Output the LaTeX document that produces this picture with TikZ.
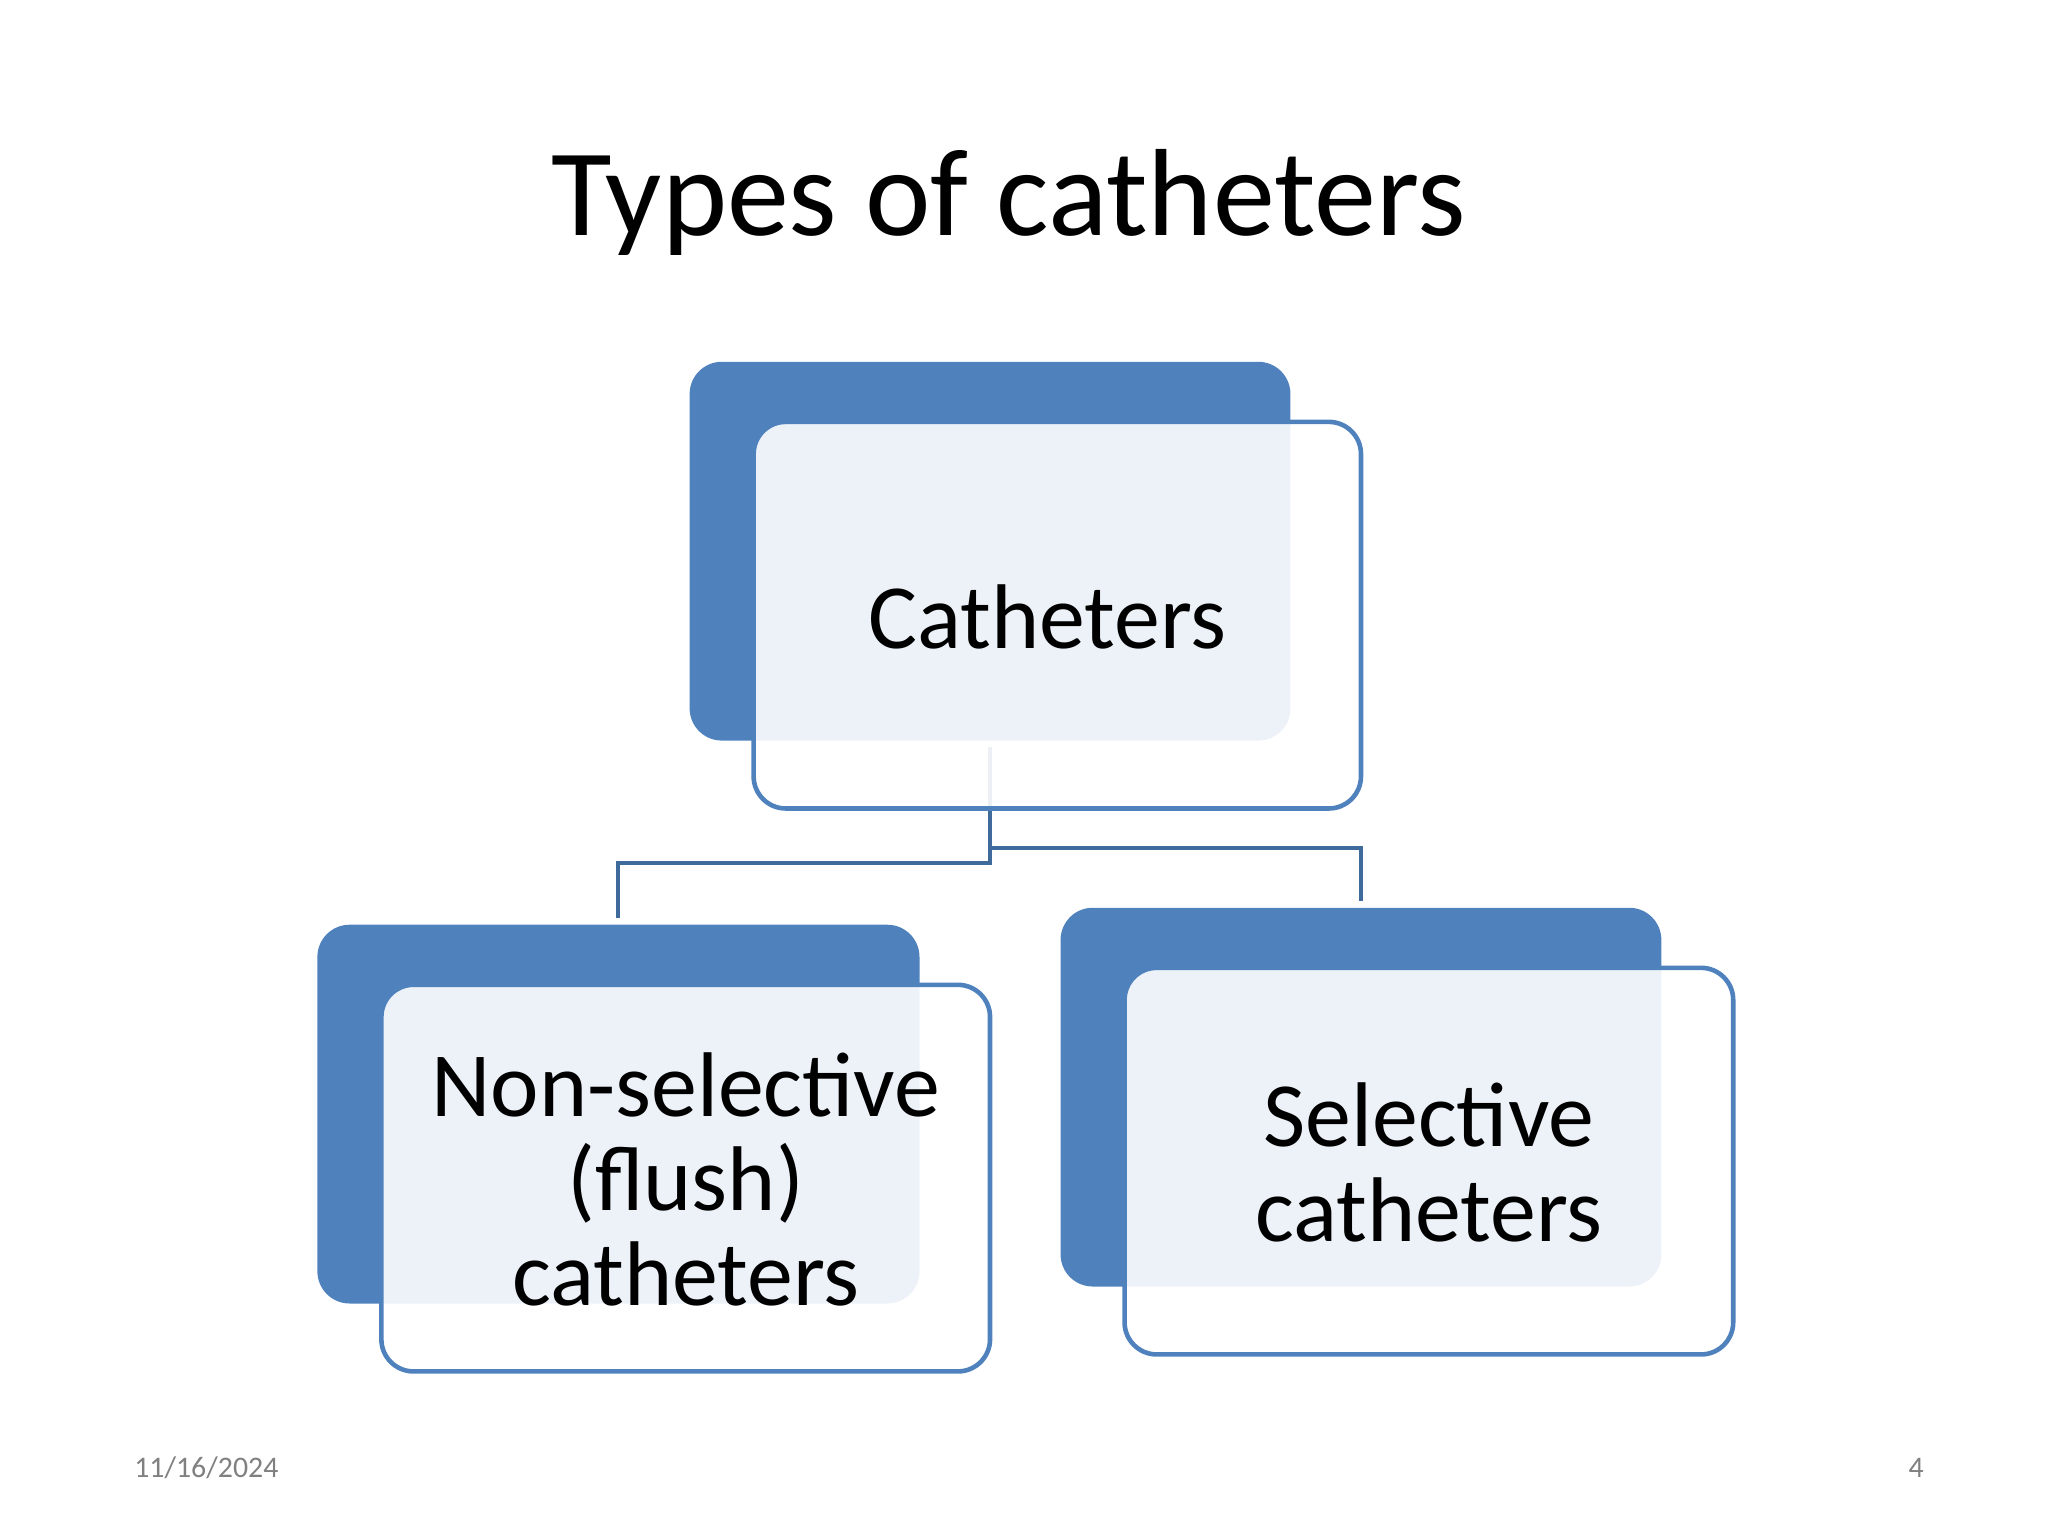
\documentclass[tikz,border=0pt]{standalone}
\usepackage{fontspec}
\setmainfont{Carlito}
\definecolor{dk}{HTML}{4F81BD}
\definecolor{ln}{HTML}{3F6A9C}
\begin{document}
\begin{tikzpicture}[x=0.01cm,y=-0.01cm,
  back/.style={fill=dk,rounded corners=7pt},
  front/.style={draw=dk,line width=1pt,fill=white,fill opacity=0.9,rounded corners=7pt},
  lbl/.style={align=center,font=\fontsize{20}{20.5}\selectfont,text=black},
  conn/.style={draw=ln,line width=0.9pt}]
\useasboundingbox (0,0) rectangle (1568,1176);
\node[font=\fontsize{27}{30}\selectfont] (title) at (772,155) {Types of catheters};
% top
\fill[back] (528,277) rectangle (988,567);
\coordinate (c0) at (758,572);
\coordinate (c1) at (758,661);
\coordinate (c2) at (473,661);
\coordinate (c3) at (473,703);
\coordinate (d1) at (758,649);
\coordinate (d2) at (1042,649);
\coordinate (d3) at (1042,690);
\draw[conn] (c0) -- (c1) -- (c2) -- (c3);
\draw[conn] (d1) -- (d2) -- (d3);
\draw[front] (577,323) rectangle (1042,619);
\node[lbl] (top) at (802,472) {Catheters};
% left
\fill[back] (243,708) rectangle (704,998);
\draw[front] (292,754) rectangle (758,1050);
\node[lbl] (left) at (525,903) {Non-selective\\(flush)\\catheters};
% right
\fill[back] (812,695) rectangle (1272,985);
\draw[front] (861,741) rectangle (1327,1037);
\node[lbl] (right) at (1094,890) {Selective\\catheters};
\node[font=\fontsize{6.5}{7}\selectfont,text=gray] (date) at (158,1124) {11/16/2024};
\node[font=\fontsize{6.5}{7}\selectfont,text=gray] (pg) at (1467,1124) {4};
\end{tikzpicture}
\end{document}
